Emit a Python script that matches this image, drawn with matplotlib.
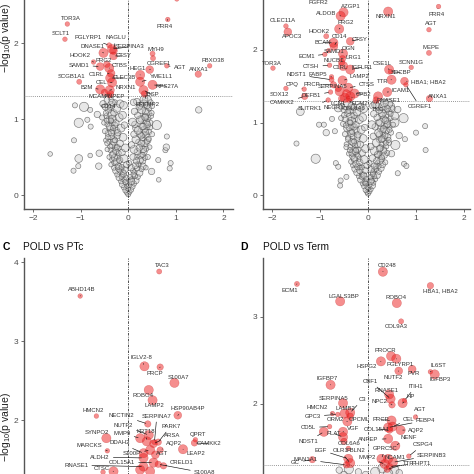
import numpy as np
import matplotlib
matplotlib.use('Agg')
import matplotlib.pyplot as plt

plt.rcParams['font.family'] = ['Liberation Sans', 'DejaVu Sans']
plt.rcParams['mathtext.fontset'] = 'custom'
plt.rcParams['mathtext.rm'] = 'Liberation Sans'
plt.rcParams['mathtext.it'] = 'Liberation Sans:italic'

nan = np.nan

# ---------------- panel A (top left) ----------------
a_gray_lfc = [-1.12, -0.93, -0.80, -1.04, -0.86, -0.65, -0.79, -1.14, -1.64, -1.04,
              -0.80, -0.61, -1.05, -1.15, -0.62, 1.48, 0.60, 0.39, 0.81, 0.78,
              0.63, 0.89, 0.87, 1.70, 0.64, 0.49, 0.80, -0.41, -0.53, 0.39,
              0.25, 0.00, -0.03, 0.03, -0.06, 0.06, 0.00, -0.09, 0.09, -0.12,
              0.12, -0.15, 0.16, -0.05, 0.05, -0.19, 0.20, -0.23, 0.24, -0.12,
              0.13, -0.26, 0.28, -0.30, 0.31, -0.20, 0.22, -0.36, 0.37, -0.28,
              0.30, -0.34, 0.35, -0.24, 0.26, -0.40, 0.41, -0.31, 0.33, -0.37,
              0.38, -0.27, 0.29, -0.44, 0.45, -0.34, 0.35, -0.40, 0.41, -0.30,
              0.30, -0.47, -0.36, 0.37, -0.42, 0.44, -0.32, 0.33, -0.49, 0.50,
              -0.38, 0.39, -0.44, 0.45, -0.34, 0.34, -0.51, -0.40, 0.41, -0.46,
              0.48, -0.35, 0.36, -0.55, -0.42, 0.44, -0.48, 0.50, -0.36, 0.33,
              -0.28, 0.47, -0.18, 0.18, -0.22, 0.21, -0.25, 0.16, -0.14, 0.27,
              -0.08, 0.08, -0.14, 0.14, -0.10, 0.10, -0.17, 0.18, -0.21, 0.21,
              -0.25, 0.25, -0.29, 0.30, -0.33, 0.32, -0.26, 0.27, -0.38, 0.39,
              -0.31, 0.31, -0.43, 0.43, -0.35, 0.36, -0.39, 0.38, -0.45, 0.46,
              -0.29, 0.29, -0.47, 0.49, -0.33, 0.36, -0.23, 0.24, -0.44, 0.40,
              -0.02, 0.02, -0.06, 0.07, -0.04, 0.04, -0.10, 0.11, -0.07, 0.06,
              -0.14, 0.15, -0.03, 0.02, -0.18, 0.17, -0.09, 0.10, -0.20, 0.19,
              -0.13, 0.12, -0.24, 0.23, -0.06, 0.07, -0.17, 0.16, -0.28, 0.27,
              -0.11, 0.12, -0.22, 0.21, -0.32, 0.31, -0.15, 0.14, -0.26, 0.25,
              -0.08, 0.09, -0.36, 0.35, -0.19, 0.20, -0.30, 0.28, -0.12, 0.13,
              -0.39, 0.40, -0.24, 0.23, -0.17, 0.18, -0.34, 0.33, -0.10, 0.11]
a_gray_logp = [1.18, 1.16, 1.12, 0.95, 0.99, 1.06, 0.90, 0.72, 0.54, 0.48,
               0.52, 0.55, 0.38, 0.32, 0.38, 1.12, 0.92, 1.07, 0.77, 0.59,
               0.46, 0.42, 0.35, 0.36, 0.20, 0.31, 0.63, 1.25, 1.20, 1.25,
               1.18, 0.01, 0.03, 0.04, 0.06, 0.07, 0.08, 0.10, 0.11, 0.14,
               0.15, 0.18, 0.19, 0.16, 0.20, 0.23, 0.24, 0.27, 0.29, 0.26,
               0.30, 0.32, 0.34, 0.36, 0.38, 0.35, 0.40, 0.40, 0.36, 0.43,
               0.45, 0.47, 0.49, 0.50, 0.52, 0.50, 0.50, 0.55, 0.57, 0.59,
               0.61, 0.62, 0.64, 0.60, 0.63, 0.66, 0.68, 0.70, 0.72, 0.73,
               0.75, 0.72, 0.77, 0.79, 0.81, 0.83, 0.84, 0.86, 0.84, 0.80,
               0.88, 0.90, 0.93, 0.95, 0.95, 0.97, 0.95, 1.00, 1.01, 1.04,
               1.04, 1.06, 1.10, 1.02, 1.12, 1.14, 1.16, 1.17, 1.18, 1.20,
               1.22, 1.22, 0.45, 0.50, 0.62, 0.70, 0.85, 0.88, 0.35, 1.00,
               0.20, 0.21, 0.24, 0.25, 0.30, 0.32, 0.33, 0.35, 0.38, 0.41,
               0.44, 0.46, 0.49, 0.53, 0.53, 0.60, 0.58, 0.68, 0.64, 0.70,
               0.70, 0.80, 0.76, 0.74, 0.82, 0.83, 0.90, 0.96, 0.98, 0.89,
               0.92, 0.90, 1.08, 1.08, 1.00, 1.03, 0.78, 0.80, 0.68, 0.93,
               0.12, 0.13, 0.17, 0.18, 0.23, 0.24, 0.28, 0.27, 0.33, 0.36,
               0.37, 0.39, 0.40, 0.42, 0.46, 0.45, 0.48, 0.50, 0.55, 0.57,
               0.56, 0.60, 0.63, 0.62, 0.62, 0.66, 0.68, 0.73, 0.72, 0.78,
               0.76, 0.80, 0.82, 0.85, 0.88, 0.90, 0.88, 0.93, 0.95, 0.99,
               0.92, 0.96, 0.98, 1.02, 1.02, 1.05, 1.08, 1.12, 1.05, 1.10,
               1.15, 1.18, 1.14, 1.16, 1.20, 1.23, 1.22, 1.26, 1.18, 1.22]
a_gray_size = [1.5, 3, 1.5, 3, 1.5, 2, 1.5, 1.5, 1.3, 2.5,
               1.3, 2, 1.5, 1.5, 2, 2, 3, 3, 1.5, 1.5,
               1.5, 1.5, 1.5, 1.3, 1.3, 2, 2, 3, 2, 3,
               2, 1.5, 1.3, 1.3, 1.5, 1.5, 1.3, 1.5, 1.5, 2,
               1.5, 1.5, 2, 1.3, 1.3, 2, 1.5, 1.5, 2, 1.5,
               1.5, 2, 1.5, 1.5, 2, 2, 1.5, 1.3, 1.3, 2,
               2, 1.5, 1.5, 1.5, 2, 1.3, 1.5, 2, 2, 1.5,
               1.5, 1.5, 1.5, 1.3, 1.3, 2, 2, 1.5, 2, 2,
               1.5, 1.3, 2, 2, 2, 1.5, 1.5, 2, 1.5, 1.5,
               2, 2, 1.5, 2, 2, 1.5, 1.3, 2, 2, 1.5,
               1.5, 2.5, 2, 1.5, 2, 1.5, 2, 1.5, 2.5, 2.5,
               1.5, 1.5, 1.5, 1.5, 2, 1.5, 2, 2, 1.5, 2,
               1.5, 1.5, 1.5, 1.5, 1.5, 1.5, 2, 1.5, 2, 1.5,
               2, 2, 2, 1.5, 2, 2, 2, 2, 1.5, 1.5,
               2, 2, 1.5, 1.5, 2, 2, 2, 2, 1.5, 1.5,
               2, 2, 1.5, 1.5, 2.5, 2, 2, 2, 1.5, 2,
               1.5, 1.5, 1.5, 2, 1.5, 1.5, 2, 1.5, 2, 2,
               1.5, 2, 2, 1.5, 2, 2, 2.5, 2, 1.5, 2,
               2, 2.5, 1.5, 2, 2.5, 2, 2, 2.5, 1.5, 2,
               2.5, 2, 2, 2.5, 1.5, 2, 2.5, 2, 2, 2.5,
               2, 2.5, 1.5, 2, 2.5, 2, 2, 2.5, 2.5, 2,
               1.5, 2, 2.5, 2, 2.5, 2, 2, 2.5, 2.5, 2]

a_genes = ["TOR3A", "SCLT1", "PRR4", "", "PGLYRP1", "NAGLU", "DNASE1", "SERPINA3", "CTSY",
           "HOOK2", "PRG2", "SAMD1", "CTBS", "C1RL", "CLEC3B", "SCGB1A1", "CEL", "B2M",
           "NRXN1", "MCAM", "ANPEP", "CD14", "MYH9", "", "CGREF1", "AGT", "FBXO38",
           "ANXA1", "HEG1", "YME1L1", "RPS27A", "IBSP", "EFEMP2"]
a_lfc = [-1.28, -1.33, 0.83, 1.02, -0.40, -0.31, -0.52, -0.34, -0.31,
         -0.73, -0.45, -0.59, -0.40, -0.36, -0.38, -1.03, -0.34, -0.59,
         -0.39, -0.50, -0.37, -0.40, 0.51, 0.52, 0.45, 0.81, 1.71,
         1.47, 0.25, 0.25, 0.51, 0.32, 0.34]
a_logp = [2.25, 2.05, 2.31, 2.58, 1.97, 1.90, 1.87, 1.92, 1.83,
          1.75, 1.72, 1.69, 1.67, 1.60, 1.54, 1.49, 1.48, 1.39,
          1.38, 1.35, 1.33, 1.31, 1.86, 1.80, 1.65, 1.70, 1.70,
          1.59, 1.58, 1.49, 1.45, 1.38, 1.33]
a_size = [1.3, 1.3, 1.3, 1.3, 1.5, 2.5, 3, 3, 2.5,
          1.3, 2, 2.5, 3, 2.5, 3, 1.5, 3, 3,
          3, 2, 2, 1.5, 1.5, 1.5, 2.5, 1.3, 1.3,
          2, 3, 3, 3, 3, 2]
a_label_x = [-1.21, -1.41, 0.76, nan, -0.84, -0.26, -0.76, 0.02, -0.10,
             -1.01, -0.52, -1.03, -0.17, -0.67, -0.08, -1.19, -0.57, -0.88,
             -0.06, -0.64, -0.27, -0.41, 0.59, nan, 0.65, 1.08, 1.78,
             1.49, 0.20, 0.69, 0.81, 0.50, 0.41]
a_label_y = [2.32, 2.12, 2.22, nan, 2.07, 2.07, 1.95, 1.95, 1.83,
             1.83, 1.77, 1.71, 1.71, 1.59, 1.54, 1.56, 1.48, 1.42,
             1.42, 1.29, 1.29, 1.17, 1.92, nan, 1.73, 1.68, 1.77,
             1.65, 1.66, 1.56, 1.43, 1.32, 1.19]

# ---------------- panel B (top right) ----------------
b_gray_lfc = [-1.49, -1.09, -1.02, -0.92, -0.87, -0.69, -0.67, -0.62, -0.57, -0.58,
              -1.41, 1.19, 1.00, 1.20, 0.77, 0.57, 0.75, 0.80, 0.49, 0.74,
              0.55, 0.46, 0.35, -0.55, -0.35, -0.75, 0.62, 0.65, -0.45, 0.15,
              0.00, -0.02, 0.03, -0.05, 0.06, 0.01, -0.08, 0.09, -0.11, 0.11,
              -0.15, 0.15, -0.04, 0.06, -0.19, 0.19, -0.23, 0.23, -0.12, 0.12,
              -0.27, 0.27, -0.31, 0.30, -0.19, 0.20, -0.35, 0.36, -0.28, 0.28,
              -0.33, 0.34, -0.24, 0.24, -0.40, 0.40, -0.31, 0.32, -0.37, 0.38,
              -0.27, 0.28, -0.45, 0.44, -0.34, 0.35, -0.41, 0.41, -0.30, 0.31,
              -0.48, 0.48, -0.37, 0.38, -0.44, 0.45, -0.33, 0.34, -0.52, 0.52,
              -0.40, 0.40, -0.47, 0.47, -0.36, 0.37, -0.56, 0.56, -0.43, 0.43,
              -0.50, 0.50, -0.30, 0.30, -0.62, 0.62, -0.18, 0.19, -0.22, 0.23,
              -0.25, 0.26, -0.16, 0.17, -0.28, 0.29, 0.42, -0.42, 0.22, -0.20,
              -0.07, 0.08, -0.13, 0.13, -0.09, 0.10, -0.17, 0.17, -0.21, 0.22,
              -0.25, 0.25, -0.29, 0.29, -0.33, 0.33, -0.26, 0.26, -0.38, 0.37,
              -0.31, 0.31, -0.42, 0.43, -0.35, 0.35, -0.39, 0.39, -0.46, 0.45,
              -0.29, 0.30, -0.50, 0.47, -0.34, 0.33, -0.22, 0.23, -0.45, 0.41,
              -0.01, 0.03, -0.05, 0.06, -0.03, 0.05, -0.09, 0.10, -0.06, 0.07,
              -0.13, 0.14, -0.02, 0.03, -0.17, 0.18, -0.08, 0.09, -0.21, 0.20,
              -0.12, 0.13, -0.25, 0.24, -0.05, 0.06, -0.16, 0.17, -0.29, 0.28,
              -0.10, 0.11, -0.21, 0.22, -0.33, 0.32, -0.14, 0.15, -0.25, 0.26,
              -0.07, 0.08, -0.37, 0.36, -0.18, 0.19, -0.29, 0.30, -0.11, 0.12,
              -0.41, 0.40, -0.23, 0.24, -0.16, 0.17, -0.35, 0.34, -0.09, 0.10]
b_gray_logp = [0.71, 0.50, 0.97, 0.97, 0.86, 0.88, 0.44, 0.39, 0.20, 0.13,
               1.15, 0.95, 0.86, 0.62, 0.77, 0.69, 0.43, 0.40, 0.57, 1.06,
               1.00, 1.22, 1.20, 1.22, 1.18, 1.05, 0.30, 0.82, 0.25, 1.25,
               0.02, 0.04, 0.05, 0.07, 0.08, 0.10, 0.12, 0.13, 0.16, 0.17,
               0.21, 0.22, 0.19, 0.24, 0.26, 0.27, 0.31, 0.32, 0.29, 0.34,
               0.36, 0.37, 0.41, 0.42, 0.40, 0.44, 0.46, 0.45, 0.49, 0.50,
               0.53, 0.55, 0.56, 0.58, 0.57, 0.58, 0.62, 0.63, 0.66, 0.67,
               0.69, 0.70, 0.70, 0.72, 0.74, 0.76, 0.79, 0.80, 0.81, 0.83,
               0.84, 0.86, 0.88, 0.89, 0.92, 0.94, 0.95, 0.96, 0.98, 0.97,
               1.00, 1.02, 1.05, 1.06, 1.08, 1.10, 1.06, 1.09, 1.13, 1.15,
               1.18, 1.19, 1.21, 1.22, 1.20, 1.18, 0.50, 0.56, 0.70, 0.76,
               0.90, 0.92, 0.38, 0.40, 1.05, 1.10, 1.26, 1.27, 1.00, 0.62,
               0.18, 0.20, 0.25, 0.26, 0.28, 0.31, 0.34, 0.36, 0.39, 0.40,
               0.43, 0.47, 0.51, 0.52, 0.58, 0.61, 0.60, 0.65, 0.62, 0.72,
               0.72, 0.78, 0.77, 0.76, 0.85, 0.82, 0.93, 0.97, 0.96, 0.90,
               0.94, 0.88, 1.10, 1.12, 1.02, 1.05, 0.80, 0.83, 0.66, 0.98,
               0.11, 0.14, 0.16, 0.19, 0.22, 0.25, 0.27, 0.29, 0.34, 0.35,
               0.38, 0.40, 0.41, 0.44, 0.45, 0.47, 0.49, 0.51, 0.54, 0.56,
               0.58, 0.61, 0.62, 0.64, 0.64, 0.67, 0.70, 0.72, 0.74, 0.77,
               0.78, 0.81, 0.83, 0.86, 0.87, 0.91, 0.90, 0.94, 0.97, 1.00,
               0.93, 0.97, 1.00, 1.03, 1.04, 1.07, 1.10, 1.13, 1.07, 1.12,
               1.16, 1.19, 1.15, 1.17, 1.21, 1.24, 1.23, 1.27, 1.19, 1.23]
b_gray_size = [1.5, 3, 1.5, 1.5, 2, 1.5, 1.5, 1.5, 1.5, 1.5,
               2.5, 1.5, 1.5, 1.5, 1.5, 3, 1.5, 1.5, 2, 3,
               3, 3, 3, 2, 3, 1.5, 1.5, 2, 1.5, 2.5,
               1.5, 1.3, 1.5, 1.5, 1.3, 1.5, 1.5, 2, 1.5, 1.5,
               2, 1.5, 1.3, 1.5, 1.5, 2, 2, 1.5, 1.5, 1.5,
               2, 2, 1.5, 2, 1.5, 1.5, 1.5, 1.5, 2, 2,
               1.5, 2, 1.5, 1.5, 1.3, 1.5, 2, 2, 1.5, 1.5,
               1.5, 1.5, 1.3, 1.5, 2, 2, 1.5, 2, 2, 1.5,
               1.5, 1.5, 2, 2, 2, 1.5, 2, 2, 1.5, 1.5,
               2, 2, 2, 1.5, 2.5, 2, 1.5, 2.5, 2, 2,
               2, 2, 2, 2.5, 2.5, 2, 1.5, 1.5, 2, 1.5,
               2, 2, 1.5, 1.5, 2, 2, 3, 3, 2, 1.5,
               1.5, 1.5, 1.5, 1.5, 1.5, 1.5, 2, 1.5, 2, 1.5,
               2, 2, 2, 1.5, 2, 2, 2, 2, 1.5, 1.5,
               2, 2, 1.5, 1.5, 2, 2, 2, 2, 1.5, 1.5,
               2, 2, 1.5, 1.5, 2.5, 2, 2, 2, 1.5, 2,
               1.5, 1.5, 1.5, 2, 1.5, 1.5, 2, 1.5, 2, 2,
               1.5, 2, 2, 1.5, 2, 2, 2.5, 2, 1.5, 2,
               2, 2.5, 1.5, 2, 2.5, 2, 2, 2.5, 1.5, 2,
               2.5, 2, 2, 2.5, 1.5, 2, 2.5, 2, 2, 2.5,
               2, 2.5, 1.5, 2, 2.5, 2, 2, 2.5, 2.5, 2,
               1.5, 2, 2.5, 2, 2.5, 2, 2, 2.5, 2.5, 2]

b_genes = ["AZGP1", "ALDOB", "PRG2", "HOOK2", "CD14", "BCAN", "CTSY", "CLEC11A", "APOC3",
           "ECM1", "SAMD1", "OGN", "LRG1", "NUCB1", "CTSH", "C1RL", "IGFLR1", "TOR3A",
           "NDST1", "FABP5", "LAMP2", "CPQ", "SOX12", "CAMKK2", "DEFB1", "PRCP",
           "SERPINA5", "CTSS", "CPB2", "ECM2", "LCN1", "COL6A6", "NEGR1", "SLITRK1",
           "", "", "NRXN1", "PRR4", "AGT", "MEPE", "SCNN1G", "CSE1L", "SDCBP", "TTR",
           "HBA1; HBA2", "ICAM1", "ANXA1", "RNASE1", "TNC", "CGREF1", "FGFR2"]
b_lfc = [-0.51, -0.57, -0.60, -0.87, -0.71, -0.72, -0.37, -1.71, -1.67,
         -0.90, -0.82, -0.52, -0.53, -0.55, -0.80, -0.52, -0.37, -1.98,
         -0.76, -0.76, -0.53, -1.33, -1.71, -1.32, -0.78, -0.72,
         -0.59, -0.41, -0.28, -0.37, -0.48, -0.40, -0.55, -0.83,
         -0.62, -0.45, 0.42, 1.47, 1.27, 1.27, 0.90, 0.44, 0.47, 0.49,
         0.76, 0.40, 1.28, 0.21, 0.17, 0.79, -0.90]
b_logp = [2.52, 2.47, 2.29, 2.19, 2.05, 2.10, 2.12, 2.33, 2.25,
          1.94, 1.99, 1.95, 1.88, 1.83, 1.79, 1.78, 1.73, 1.75,
          1.59, 1.63, 1.58, 1.46, 1.47, 1.36, 1.42, 1.52,
          1.43, 1.48, 1.40, 1.36, 1.34, 1.32, 1.33, 1.31,
          1.47, 1.40, 2.53, 2.60, 2.28, 1.96, 1.76, 1.73, 1.70, 1.59,
          1.57, 1.42, 1.33, 1.36, 1.31, 1.52, 2.80]
b_size = [3, 3, 3, 1.5, 2.5, 3, 2.5, 1.3, 2.5,
          1.3, 1.3, 3, 2, 2, 1.3, 3, 3, 1.3,
          1.5, 1.3, 3, 1.3, 1.3, 2, 1.3, 2,
          3, 3, 3, 3, 3, 2, 2, 1.3,
          2, 2.5, 3, 1.3, 1.3, 1.5, 1.3, 3, 1.3, 3,
          2.5, 3, 2, 3, 2, 1.3, 1.3]
b_label_x = [-0.36, -0.87, -0.46, -1.02, -0.59, -0.95, -0.17, -1.78, -1.58,
             -1.28, -0.70, -0.40, -0.30, -0.72, -1.18, -0.58, -0.12, -2.00,
             -1.49, -1.04, -0.17, -1.58, -1.85, -1.78, -1.18, -1.18,
             -0.73, -0.03, -0.10, -0.17, -0.62, -0.28, -0.72, -1.21,
             nan, nan, 0.38, 1.42, 1.32, 1.32, 0.90, 0.30, 0.69, 0.30,
             1.25, 0.69, 1.46, 0.42, 0.21, 1.08, -1.04]
b_label_y = [2.60, 2.51, 2.38, 2.25, 2.19, 2.10, 2.15, 2.40, 2.18,
             1.91, 1.98, 2.02, 1.90, 1.85, 1.77, 1.76, 1.76, 1.82,
             1.66, 1.66, 1.64, 1.52, 1.39, 1.27, 1.37, 1.52,
             1.50, 1.52, 1.39, 1.26, 1.26, 1.20, 1.21, 1.20,
             nan, nan, 2.46, 2.49, 2.36, 2.03, 1.83, 1.82, 1.69, 1.57,
             1.56, 1.44, 1.36, 1.31, 1.18, 1.22, 2.66]

# ---------------- panel C: POLD vs PTc ----------------
c_gray_lfc = [-0.30, 0.20, 0.45, -0.10, 0.60, -0.55]
c_gray_logp = [1.20, 1.22, 1.18, 1.15, 1.10, 1.12]
c_gray_size = [2, 3, 2, 2, 2, 1.5]

c_genes = ["TAC3", "ABHD14B", "IGLV2-8", "PRCP", "S100A7", "ROBO4", "LAMP2", "HSP90AB4P",
           "HMCN2", "NECTIN2", "SERPINA7", "NUTF2", "PARK7", "KRT18", "SYNPO2", "MMP9",
           "QPRT", "ARSA", "DDAH2", "AQP2", "CAMKK2", "MARCKS", "S100P", "AGT", "LEAP2",
           "ALDH2", "COL15A1", "CRELD1", "RNASE1", "CTSC", "", "", "", "S100A8"]
c_lfc = [0.65, -1.01, 0.34, 0.67, 0.97, 0.43, 0.51, 1.04,
         -0.67, 0.41, 0.55, 0.43, 0.63, 0.39, -0.46, 0.25,
         1.41, 0.53, 0.32, 0.67, 1.39, -0.44, 0.46, 0.57, 1.15,
         0.32, 0.53, 0.74, 0.32, -0.31, 0.46, 0.25, -0.53, 0.63]
c_logp = [3.88, 3.57, 2.68, 2.67, 2.47, 2.38, 2.25, 2.06,
          2.05, 1.95, 1.72, 1.81, 1.72, 1.73, 1.77, 1.77,
          1.75, 1.70, 1.58, 1.62, 1.71, 1.61, 1.62, 1.56, 1.63,
          1.52, 1.46, 1.42, 1.41, 1.35, 1.35, 1.37, 1.34, 1.44]
c_size = [1.5, 1.3, 3, 2, 3, 3, 3, 2.5,
          1.3, 2, 1.5, 3, 2, 3, 3, 3,
          1.3, 2.5, 3, 2, 2, 1.3, 3, 2.5, 3,
          3, 3, 2, 3, 3, 3, 3, 1.3, 2]
c_label_x = [0.72, -0.97, 0.27, 0.55, 1.05, 0.30, 0.55, 1.25,
             -0.74, -0.15, 0.60, -0.10, 0.89, 0.36, -0.66, -0.13,
             1.47, 0.92, -0.18, 0.96, 1.69, -0.81, 0.08, 0.71, 1.41,
             -0.59, -0.13, 1.13, -1.09, -0.56, nan, nan, nan, 1.60]
c_label_y = [3.95, 3.65, 2.79, 2.59, 2.54, 2.31, 2.18, 2.14,
             2.12, 2.06, 2.05, 1.93, 1.92, 1.85, 1.84, 1.83,
             1.82, 1.81, 1.71, 1.70, 1.70, 1.68, 1.57, 1.57, 1.57,
             1.53, 1.46, 1.46, 1.43, 1.39, nan, nan, nan, 1.33]

# ---------------- panel D: POLD vs Term ----------------
d_gray_lfc = [-0.40, -0.60, 0.30, 0.55, 0.15, -0.20, 0.65, -0.05, 0.42, -0.50]
d_gray_logp = [1.25, 1.24, 1.26, 1.24, 1.22, 1.22, 1.21, 1.19, 1.20, 1.19]
d_gray_size = [3, 2, 3, 3, 3, 2, 2, 2, 3, 2]

d_genes = ["ECM1", "CD248", "HBA1, HBA2", "LGALS3BP", "ROBO4", "COL9A3", "PROCR", "PGLYRP1",
           "HSPG2", "PVR", "NUTF2", "IL6ST", "IGFBP3", "IGFBP7", "CBF1", "RNASE1", "ITIH1",
           "HP", "NPC2", "SERPINA5", "C3", "HMCN2", "LAMB2", "GPC3", "ORM2", "OPCML", "AGT",
           "PRCP", "CEL", "PEBP4", "CD5L", "VGF", "COL15A1", "AQP2", "PLAT", "NDST1",
           "COL6A6", "ANPEP", "NENF", "FBLN2", "GPRC5C", "CSPG4", "EGF", "OLR1", "SERPINB3",
           "MAN1A1", "MMP2", "NCAM1", "GC", "PHPT1", "TTR"]
d_lfc = [-1.48, 0.31, 1.30, -0.58, 0.60, 0.69, 0.48, 0.59,
         0.27, 0.92, 0.64, 1.30, 1.39, -0.78, 0.47, 0.44, 0.76,
         0.72, 0.50, -0.52, -0.37, -0.74, -0.49, -0.63, -0.43, -0.37, 0.99,
         0.49, 0.51, 0.42, -0.80, -0.52, 0.45, 0.68, -0.52, -0.92,
         -0.50, 0.42, 0.57, -0.41, 0.28, 0.85, -0.41, -0.37, 0.52,
         -0.45, 0.35, 0.42, -1.16, 0.45, 0.40]
d_logp = [3.38, 3.52, 3.36, 3.18, 3.16, 2.95, 2.55, 2.52,
          2.49, 2.40, 2.38, 2.37, 2.34, 2.22, 2.06, 2.11, 2.04,
          2.01, 1.99, 2.01, 1.90, 1.89, 1.89, 1.88, 1.80, 1.86, 1.85,
          1.81, 1.74, 1.73, 1.74, 1.68, 1.70, 1.70, 1.62, 1.68,
          1.57, 1.60, 1.52, 1.49, 1.37, 1.40, 1.37, 1.32, 1.33,
          1.30, 1.31, 1.37, 1.36, 1.28, 1.25]
d_size = [1.5, 3, 2, 3, 3, 1.5, 3, 3,
          3, 2.5, 2.5, 1.3, 3, 3, 3, 3, 1.3,
          3, 2, 3, 3, 1.3, 3, 1.3, 3, 2, 1.3,
          3, 3, 3, 1.3, 3, 2, 3, 3, 3,
          2, 3, 3, 1.3, 3, 1.3, 3, 3, 3,
          2, 3, 3, 2, 2, 2]
d_label_x = [-1.62, 0.40, 1.50, -0.51, 0.59, 0.59, 0.37, 0.66,
             -0.02, 0.95, 0.52, 1.47, 1.50, -0.85, 0.05, 0.38, 0.99,
             0.88, 0.24, -0.71, -0.12, -1.06, -0.47, -1.15, -0.68, -0.19, 1.08,
             0.26, 0.85, 1.19, -1.24, -0.31, 0.19, 1.00, -0.71, -1.24,
             -0.40, 0.01, 0.84, -0.26, 0.36, 1.14, -0.98, -0.58, 1.33,
             -1.31, -0.02, 0.57, -1.51, 1.10, 0.85]
d_label_y = [3.31, 3.59, 3.30, 3.24, 3.22, 2.89, 2.61, 2.45,
             2.43, 2.35, 2.31, 2.44, 2.28, 2.29, 2.26, 2.15, 2.20,
             2.09, 2.03, 2.06, 2.05, 1.96, 1.95, 1.86, 1.82, 1.82, 1.94,
             1.82, 1.82, 1.81, 1.73, 1.72, 1.71, 1.70, 1.66, 1.57,
             1.55, 1.59, 1.61, 1.47, 1.49, 1.53, 1.47, 1.46, 1.41,
             1.36, 1.39, 1.39, 1.33, 1.32, 1.32]

p_cut = -np.log10(0.05)

W = 474.0
fig = plt.figure(figsize=(4.74, 4.74), dpi=100)


def rect(left, right, top, bottom):
    # pixel box (y measured from the top) -> figure fraction
    return [left / W, 1 - bottom / W, (right - left) / W, (bottom - top) / W]


def msize(v):
    return 3.5 + 4.5 * np.asarray(v, dtype=float) ** 2


def draw_panel(ax, gray, red, labels, xlim, ylim, yticks, show_x):
    gx, gy, gs = gray
    genes, rx, ry, rs = red
    lx, ly = labels
    for seq in (rx, ry, rs, lx, ly):
        assert len(seq) == len(genes)
    assert len(gx) == len(gy) == len(gs)

    ax.set_xlim(*xlim)
    ax.set_ylim(*ylim)
    ax.scatter(gx, gy, s=msize(gs), facecolor=(0.78, 0.78, 0.78, 0.4),
               edgecolor=(0.3, 0.3, 0.3, 0.75), linewidth=0.45, zorder=2)
    ax.axvline(0, color='#333333', lw=0.6, ls=(0, (3, 1.5, 1, 1.5)), zorder=3)
    ax.axhline(p_cut, color='#777777', lw=0.6, ls=(0, (1, 1.5)), zorder=3)
    ax.scatter(rx, ry, s=msize(rs), facecolor=(0.93, 0.12, 0.12, 0.5),
               edgecolor=(0.75, 0.1, 0.1, 0.5), linewidth=0.3, zorder=4)

    for g, x, y, tx, ty in zip(genes, rx, ry, lx, ly):
        if not g or np.isnan(tx):
            continue
        p = ax.transData.transform((x, y))
        t = ax.transData.transform((tx, ty))
        dx, dy = abs(p[0] - t[0]), abs(p[1] - t[1])
        half_w = 1.35 * len(g)
        far = dx > half_w + 3 or dy > 6
        kw = {}
        if far:
            kw['arrowprops'] = dict(arrowstyle='-', color='#111111', lw=0.45,
                                    shrinkA=0.5, shrinkB=1.5)
        ax.annotate(g, xy=(x, y), xytext=(tx, ty), fontsize=4.3, color='#333333',
                    ha='center', va='center', zorder=5, **kw)

    for side in ('top', 'right'):
        ax.spines[side].set_visible(False)
    for side in ('left', 'bottom'):
        ax.spines[side].set_color('#555555')
        ax.spines[side].set_linewidth(1.0)
    ax.set_yticks(yticks)
    ax.set_xticks([-2, -1, 0, 1, 2])
    ax.tick_params(length=2.5, width=0.6, color='#555555', labelcolor='#4d4d4d',
                   labelsize=6, pad=1.5)
    if not show_x:
        ax.spines['bottom'].set_visible(False)


ylab = r'$-\mathrm{log}_{10}(\mathrm{p\ value})$'

axA = fig.add_axes(rect(24, 233, -133, 209))
draw_panel(axA, (a_gray_lfc, a_gray_logp, a_gray_size), (a_genes, a_lfc, a_logp, a_size),
           (a_label_x, a_label_y), (-2.19, 2.2), (-0.184, 4.316), [0, 1, 2, 3, 4], True)
axA.set_ylabel(ylab, fontsize=7.5, color='#222222')
axA.yaxis.set_label_coords((13 - 24) / 209, 0.5)

axB = fig.add_axes(rect(263, 470, -133, 209))
draw_panel(axB, (b_gray_lfc, b_gray_logp, b_gray_size), (b_genes, b_lfc, b_logp, b_size),
           (b_label_x, b_label_y), (-2.1875, 2.125), (-0.193, 4.524), [0, 1, 2, 3, 4], True)

axC = fig.add_axes(rect(24, 233, 258, 596))
draw_panel(axC, (c_gray_lfc, c_gray_logp, c_gray_size), (c_genes, c_lfc, c_logp, c_size),
           (c_label_x, c_label_y), (-2.19, 2.2), (-0.228, 4.051), [0, 1, 2, 3, 4], False)
axC.set_ylabel(ylab, fontsize=7.5, color='#222222')
axC.yaxis.set_label_coords((13 - 24) / 209, 0.5)

axD = fig.add_axes(rect(263, 470, 258, 596))
draw_panel(axD, (d_gray_lfc, d_gray_logp, d_gray_size), (d_genes, d_lfc, d_logp, d_size),
           (d_label_x, d_label_y), (-2.1875, 2.125), (-0.207, 3.678), [0, 1, 2, 3], False)

fig.text(3 / W, 1 - 247 / W, 'C', fontsize=7.5, fontweight='bold', va='center', ha='left')
fig.text(23 / W, 1 - 247 / W, 'POLD vs PTc', fontsize=7.3, va='center', ha='left', color='#111111')
fig.text(240 / W, 1 - 247 / W, 'D', fontsize=7.5, fontweight='bold', va='center', ha='left')
fig.text(263 / W, 1 - 247 / W, 'POLD vs Term', fontsize=7.3, va='center', ha='left', color='#111111')

fig.savefig('out.png', dpi=100)
